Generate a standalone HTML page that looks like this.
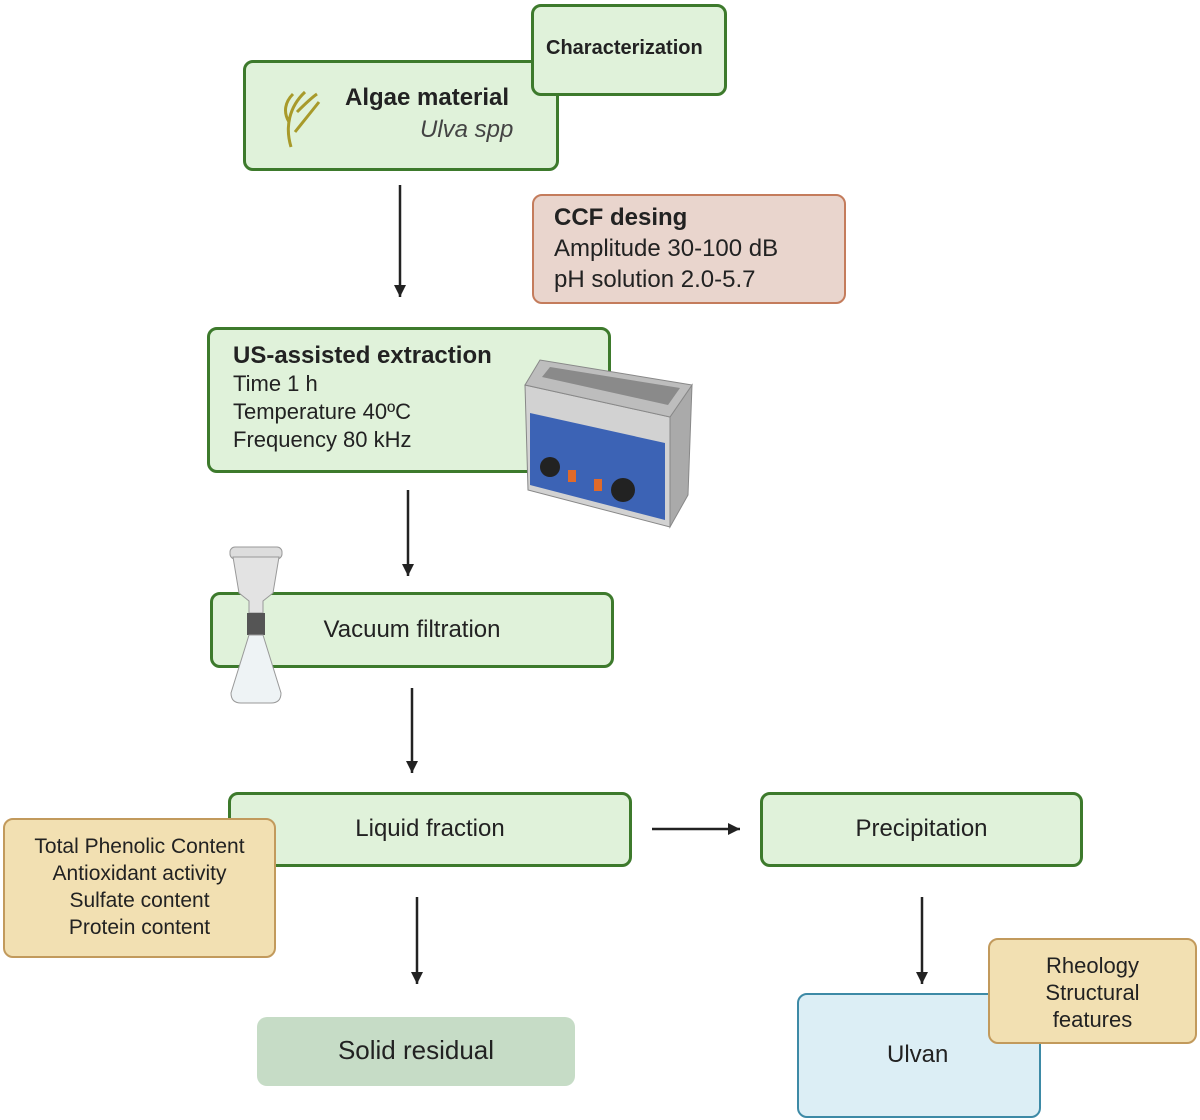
<!DOCTYPE html>
<html><head><style>
body{margin:0;width:1200px;height:1120px;background:#fff;position:relative;font-family:"Liberation Sans",sans-serif;color:#222;overflow:hidden}
.b{position:absolute;box-sizing:border-box;border-radius:10px}
.g{background:#e0f2da;border:3px solid #3d7a2c}
.t{background:#f2e0b2;border:2px solid #c29a5c;text-align:center;font-size:21px;line-height:27px}
</style></head><body>
<div class="b g" style="left:243px;top:60px;width:316px;height:111px"></div>
<div style="position:absolute;left:275px;top:82px;width:50px;height:70px">
<svg width="50" height="70"><path d="M16 65 C10 45 14 25 30 10 M20 50 C28 40 36 30 44 20 M14 40 C8 30 10 20 18 12 M22 30 C30 22 36 16 42 12" stroke="#a89a2a" stroke-width="3" fill="none"/></svg></div>
<div style="position:absolute;left:345px;top:84px;font-size:24px;font-weight:bold">Algae material</div>
<div style="position:absolute;left:420px;top:116px;font-size:24px;font-style:italic;color:#444">Ulva spp</div>
<div class="b g" style="left:531px;top:4px;width:196px;height:92px;font-size:20px;font-weight:bold;padding:30px 0 0 12px">Characterization</div>
<div class="b" style="left:532px;top:194px;width:314px;height:110px;background:#e9d5cd;border:2px solid #c47c5c;padding:6px 0 0 20px;font-size:24px;line-height:31px">
<b>CCF desing</b><br>Amplitude 30-100 dB<br>pH solution 2.0-5.7</div>
<div class="b g" style="left:207px;top:327px;width:404px;height:146px;padding:12px 0 0 23px;font-size:22px;line-height:28px">
<b style="font-size:24px">US-assisted extraction</b><br>Time 1 h<br>Temperature 40ºC<br>Frequency 80 kHz</div>
<svg style="position:absolute;left:520px;top:355px" width="180" height="180">
<path d="M5 30 L150 62 L150 172 L8 135 Z" fill="#d2d2d2" stroke="#888"/>
<path d="M150 62 L172 30 L168 140 L150 172 Z" fill="#aaa" stroke="#888"/>
<path d="M5 30 L20 5 L172 30 L150 62 Z" fill="#bdbdbd" stroke="#888"/>
<path d="M22 22 L30 12 L160 33 L148 50 Z" fill="#8a8a8a"/>
<path d="M10 58 L145 88 L145 165 L10 130 Z" fill="#3c63b5"/>
<circle cx="30" cy="112" r="10" fill="#222"/><circle cx="103" cy="135" r="12" fill="#222"/>
<rect x="48" y="115" width="8" height="12" fill="#e06a2a"/><rect x="74" y="124" width="8" height="12" fill="#e06a2a"/></svg>
<svg style="position:absolute;left:0;top:0" width="1200" height="1120">
<defs><marker id="a" markerUnits="userSpaceOnUse" markerWidth="12" markerHeight="12" refX="12" refY="6" orient="auto"><path d="M0 0 L12 6 L0 12 Z" fill="#222"/></marker></defs>
<g stroke="#222" stroke-width="2.5" marker-end="url(#a)">
<line x1="400" y1="185" x2="400" y2="297"/><line x1="408" y1="490" x2="408" y2="576"/>
<line x1="412" y1="688" x2="412" y2="773"/><line x1="417" y1="897" x2="417" y2="984"/>
<line x1="922" y1="897" x2="922" y2="984"/><line x1="652" y1="829" x2="740" y2="829"/></g></svg>
<div class="b g" style="left:210px;top:592px;width:404px;height:76px;font-size:24px;text-align:center;line-height:70px">Vacuum filtration</div>
<svg style="position:absolute;left:225px;top:543px" width="62" height="165">
<rect x="5" y="4" width="52" height="12" rx="5" fill="#ddd" stroke="#999"/>
<path d="M8 14 L54 14 L48 50 L38 58 L38 70 L24 70 L24 58 L14 50 Z" fill="#e3e3e3" stroke="#999"/>
<rect x="22" y="70" width="18" height="22" fill="#555"/>
<path d="M24 92 L38 92 L56 150 Q56 160 46 160 L16 160 Q6 160 6 150 Z" fill="#eef3f5" stroke="#999"/></svg>
<div class="b g" style="left:228px;top:792px;width:404px;height:75px;font-size:24px;text-align:center;line-height:68px">Liquid fraction</div>
<div class="b g" style="left:760px;top:792px;width:323px;height:75px;font-size:24px;text-align:center;line-height:68px">Precipitation</div>
<div class="b t" style="left:3px;top:818px;width:273px;height:140px;padding-top:13px">Total Phenolic Content<br>Antioxidant activity<br>Sulfate content<br>Protein content</div>
<div class="b" style="left:257px;top:1017px;width:318px;height:69px;background:#c6dcc6;font-size:26px;text-align:center;line-height:66px">Solid residual</div>
<div class="b" style="left:797px;top:993px;width:244px;height:125px;background:#dceef5;border:2px solid #3d8aa6;font-size:24px;padding:46px 0 0 88px">Ulvan</div>
<div class="b t" style="left:988px;top:938px;width:209px;height:106px;padding-top:12px;font-size:22px">Rheology<br>Structural<br>features</div>
</body></html>
